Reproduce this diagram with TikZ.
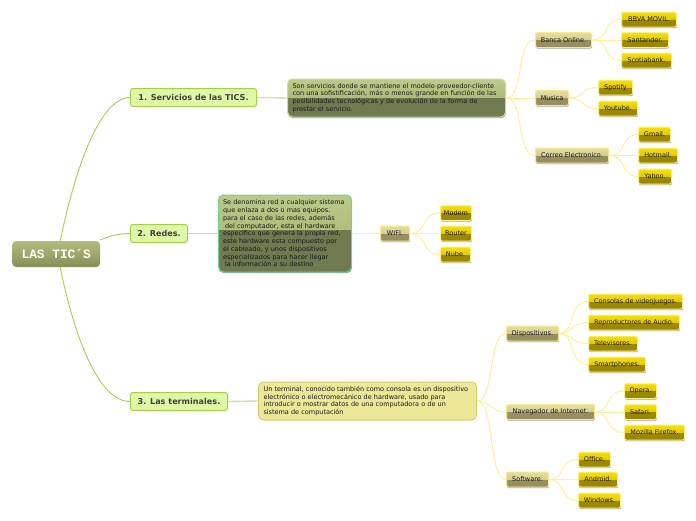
\documentclass[tikz,border=0pt]{standalone}
\usepackage{fontspec}
\setmainfont{DejaVu Sans}
\newfontfamily\rootfont{Liberation Mono}
\usetikzlibrary{shadows}

\definecolor{rootTop}{HTML}{B4BC7C}
\definecolor{rootBot}{HTML}{878F58}
\definecolor{greenFill}{HTML}{DFF8A6}
\definecolor{greenLine}{HTML}{A3CF4C}
\definecolor{deskTop}{HTML}{BCCB8A}
\definecolor{deskMid}{HTML}{A0AC6A}
\definecolor{deskBot}{HTML}{6F7A50}
\definecolor{deskLine}{HTML}{CBD99C}
\definecolor{redLine}{HTML}{78CC96}
\definecolor{paleFill}{HTML}{ECE898}
\definecolor{paleLine}{HTML}{D2CF72}
\definecolor{subTop}{HTML}{E6DFA4}
\definecolor{subMid}{HTML}{C0B880}
\definecolor{subBot}{HTML}{978F60}
\definecolor{subLine}{HTML}{F6E88E}
\definecolor{leafTop}{HTML}{F8E000}
\definecolor{leafMid}{HTML}{CDB400}
\definecolor{leafBot}{HTML}{9C8800}
\definecolor{leafLine}{HTML}{F8F08C}
\definecolor{wireA}{HTML}{A6CE50}
\definecolor{wireB}{HTML}{DADBA8}
\definecolor{wireC}{HTML}{FDEFA2}

\tikzset{
  halves/.style n args={4}{
    path picture={
      \shade[sharp corners,top color=#1,bottom color=#2]
        (path picture bounding box.north west) rectangle ([yshift=#4]path picture bounding box.east);
      \fill[sharp corners,#3] ([yshift=#4]path picture bounding box.west) rectangle (path picture bounding box.south east);
    }},
  softshadow/.style={drop shadow={shadow xshift=0.4pt,shadow yshift=-1.2pt,opacity=0.4,fill=black}},
  rootbox/.style={anchor=west,rounded corners=4pt,inner sep=0pt,minimum width=88pt,minimum height=26pt,
    top color=rootTop,bottom color=rootBot,text=white,font=\rootfont\bfseries\fontsize{12.8}{14}\selectfont},
  topic/.style={anchor=west,draw=greenLine,line width=1pt,fill=greenFill,rounded corners=2.5pt,inner sep=0pt,
    minimum height=18pt,text=black!75,font=\bfseries\fontsize{8.1}{10}\selectfont},
  desc/.style={anchor=west,draw=deskLine,line width=1pt,rounded corners=5pt,inner sep=0pt,align=left,
    text=black!90,font=\fontsize{6.5}{7.75}\selectfont,softshadow,halves={deskTop}{deskMid}{deskBot}{0pt}},
  subbox/.style={anchor=west,draw=subLine,line width=1pt,rounded corners=2pt,inner sep=0pt,minimum height=15pt,
    text=black!90,font=\fontsize{6.5}{8}\selectfont,softshadow,halves={subTop}{subMid}{subBot}{0pt}},
  leafbox/.style={anchor=west,draw=leafLine,line width=1pt,rounded corners=2pt,inner sep=0pt,minimum height=15pt,
    text=black!90,font=\fontsize{6.5}{8}\selectfont,softshadow,halves={leafTop}{leafMid}{leafBot}{0pt}},
  wirea/.style={draw=wireA,line width=0.9pt},
  wireb/.style={draw=wireB,line width=1.4pt},
  wirec/.style={draw=wireC,line width=1pt},
}

\begin{document}
\begin{tikzpicture}[x=1pt,y=-1pt]

  \useasboundingbox (0,0) rectangle (696,520);

  % root and the three topics
  \node[rootbox] (root) at (12,254) {LAS TIC´S};
  \node[topic,minimum width=126pt] (servicios) at (130,97.5) {1. Servicios de las TICS.};
  \node[topic,minimum width=57pt] (redes) at (130,233.5) {2. Redes.};
  \node[topic,minimum width=97pt] (terminales) at (130,401.5) {3. Las terminales.};

  % long texts
  \node[desc,minimum width=218pt,minimum height=38pt,text width=208pt] (servText) at (287,98)
    {Son servicios donde se mantiene el modelo proveedor-cliente\\
     con una sofistificación, más o menos grande en función de las\\
     posibilidades tecnológicas y de evolución de la forma de\\
     prestar el servicio.};
  \node[desc,draw=redLine,minimum width=133pt,minimum height=77pt,text width=124pt,
    halves={deskTop}{deskMid}{deskBot}{3.5pt}] (redText) at (218,233.5)
    {Se denomina red a cualquier sistema\\
     que enlaza a dos o mas equipos.\\
     para el caso de las redes, además\\
     \hspace*{2pt}del computador, esta el hardware\\
     especifico que genera la propia red,\\
     este hardware esta compuesto por\\
     el cableado, y unos dispositivos\\
     especializados para hacer llegar\\
     \hspace*{2pt}la información a su destino};
  \node[anchor=west,draw=paleLine,line width=1pt,fill=paleFill,rounded corners=5pt,inner sep=0pt,align=left,
    text=black!90,font=\fontsize{6.5}{7.75}\selectfont,minimum width=218pt,minimum height=38pt,text width=208pt]
    (termText) at (258,401)
    {Un terminal, conocido también como consola es un dispositivo\\
     electrónico o electromecánico de hardware, usado para\\
     introducir o mostrar datos de una computadora o de un\\
     sistema de computación};

  % servicios
  \node[subbox,minimum width=56pt] (banca) at (535,40) {Banca Online.};
  \node[subbox,minimum width=33pt] (musica) at (535,98) {Musica};
  \node[subbox,minimum width=73pt] (correo) at (535,155.5) {Correo Electronico.};
  \node[leafbox,minimum width=55pt] (bbva) at (621,19.5) {BBVA MOVIL.};
  \node[leafbox,minimum width=47pt] (santander) at (621,40) {Santander.};
  \node[leafbox,minimum width=50pt] (scotia) at (621,60.5) {Scotiabank.};
  \node[leafbox,minimum width=34pt] (spotify) at (598,87.5) {Spotify};
  \node[leafbox,minimum width=39pt] (youtube) at (598,108.5) {Youtube.};
  \node[leafbox,minimum width=32pt] (gmail) at (638,134.5) {Gmail.};
  \node[leafbox,minimum width=39pt] (hotmail) at (638,155.5) {Hotmail.};
  \node[leafbox,minimum width=33pt] (yahoo) at (638,176.5) {Yahoo.};

  % redes
  \node[subbox,minimum width=29pt] (wifi) at (380,233.5) {WIFI.};
  \node[leafbox,minimum width=31pt] (modem) at (440,213) {Modem};
  \node[leafbox,minimum width=31pt] (router) at (440,233.5) {Router};
  \node[leafbox,minimum width=30pt] (nube) at (440,254.5) {Nube.};

  % terminales
  \node[subbox,minimum width=52pt] (disp) at (506,333.5) {Dispositivos.};
  \node[subbox,minimum width=88pt] (nav) at (506,412) {Navegador de Internet.};
  \node[subbox,minimum width=42pt] (soft) at (506,479.5) {Software.};
  \node[leafbox,minimum width=94pt] (consolas) at (588,301.5) {Consolas de videojuegos.};
  \node[leafbox,minimum width=91pt] (audio) at (588,322.5) {Reproductores de Audio.};
  \node[leafbox,minimum width=49pt] (tele) at (588,343.5) {Televisores.};
  \node[leafbox,minimum width=57pt] (smart) at (588,364.5) {Smartphones.};
  \node[leafbox,minimum width=32pt] (opera) at (624,391) {Opera.};
  \node[leafbox,minimum width=32pt] (safari) at (624,412) {Safari.};
  \node[leafbox,minimum width=60pt] (mozilla) at (624,432.5) {Mozilla Firefox.};
  \node[leafbox,minimum width=32pt] (office) at (578,459.5) {Office.};
  \node[leafbox,minimum width=39pt] (android) at (578,479.5) {Android.};
  \node[leafbox,minimum width=42pt] (windows) at (578,500.5) {Windows.};

  % links from the root
  \draw[wirea] ([xshift=4pt]root.north) .. controls (74,175) and (98,98) .. (servicios.west);
  \draw[wirea] ([xshift=44pt,yshift=1pt]root.north) .. controls (110,236) and (118,233.5) .. (redes.west);
  \draw[wirea] ([xshift=4pt]root.south) .. controls (74,335) and (98,401.5) .. (terminales.west);

  % links to the long texts
  \draw[wireb] (servicios.east) -- (servText.west);
  \draw[wireb] (redes.east) -- (redText.west |- redes.east);
  \draw[wireb] (terminales.east) -- (termText.west);

  % links to the second level
  \draw[wirec] (servText.east) .. controls (525,98) and (515,40) .. (banca.west);
  \draw[wirec] (servText.east) -- (musica.west);
  \draw[wirec] (servText.east) .. controls (525,98) and (515,155.5) .. (correo.west);
  \draw[wirec] (redText.east) -- (wifi.west);
  \draw[wirec] (termText.east) .. controls (495,401) and (488,333.5) .. (disp.west);
  \draw[wirec] (termText.east) .. controls (490,401) and (492,412) .. (nav.west);
  \draw[wirec] (termText.east) .. controls (495,401) and (488,479.5) .. (soft.west);

  % links to the leaves
  \draw[wirec] (banca.east) .. controls (611,40) and (602,19.5) .. (bbva.west);
  \draw[wirec] (banca.east) -- (santander.west);
  \draw[wirec] (banca.east) .. controls (611,40) and (602,60.5) .. (scotia.west);
  \draw[wirec] (musica.east) .. controls (585,98) and (580,87.5) .. (spotify.west);
  \draw[wirec] (musica.east) .. controls (585,98) and (580,108.5) .. (youtube.west);
  \draw[wirec] (correo.east) .. controls (627,155.5) and (620,134.5) .. (gmail.west);
  \draw[wirec] (correo.east) -- (hotmail.west);
  \draw[wirec] (correo.east) .. controls (627,155.5) and (620,176.5) .. (yahoo.west);
  \draw[wirec] (wifi.east) .. controls (428,233.5) and (420,213) .. (modem.west);
  \draw[wirec] (wifi.east) -- (router.west);
  \draw[wirec] (wifi.east) .. controls (428,233.5) and (420,254.5) .. (nube.west);
  \draw[wirec] (disp.east) .. controls (576,333.5) and (568,301.5) .. (consolas.west);
  \draw[wirec] (disp.east) .. controls (573,333.5) and (570,322.5) .. (audio.west);
  \draw[wirec] (disp.east) .. controls (573,333.5) and (570,343.5) .. (tele.west);
  \draw[wirec] (disp.east) .. controls (576,333.5) and (568,364.5) .. (smart.west);
  \draw[wirec] (nav.east) .. controls (612,412) and (604,391) .. (opera.west);
  \draw[wirec] (nav.east) -- (safari.west);
  \draw[wirec] (nav.east) .. controls (612,412) and (604,432.5) .. (mozilla.west);
  \draw[wirec] (soft.east) .. controls (566,479.5) and (558,459.5) .. (office.west);
  \draw[wirec] (soft.east) -- (android.west);
  \draw[wirec] (soft.east) .. controls (566,479.5) and (558,500.5) .. (windows.west);

\end{tikzpicture}
\end{document}
